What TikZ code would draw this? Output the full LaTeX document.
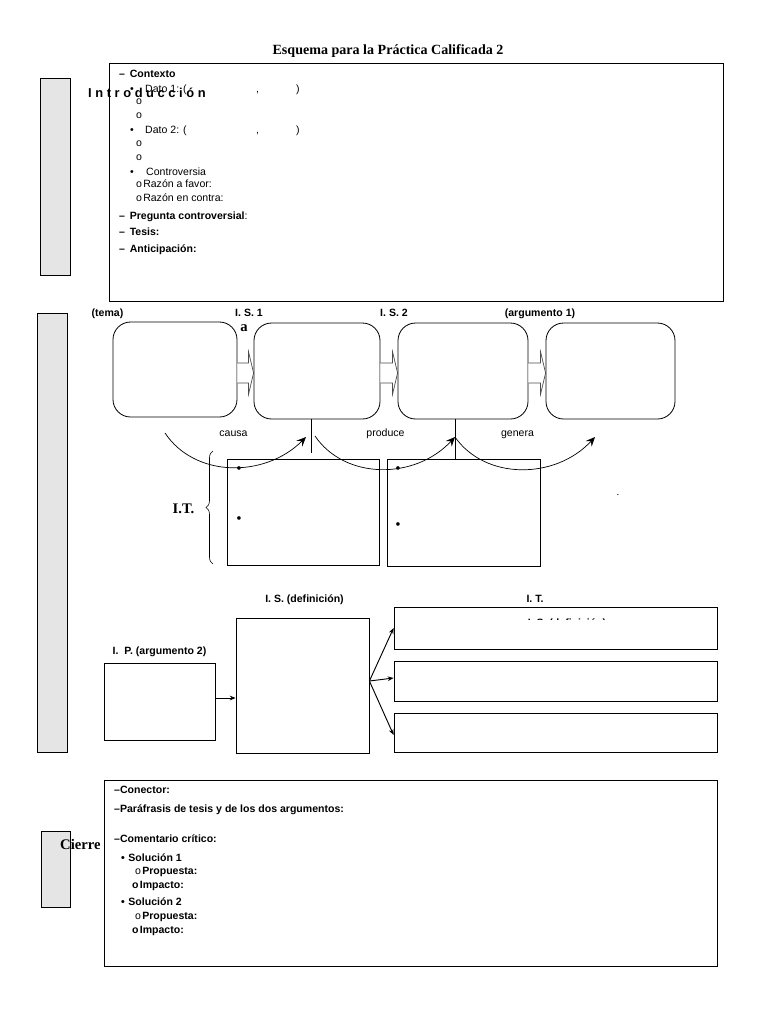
\documentclass[tikz,border=0pt]{standalone}
\usepackage{fontspec}
\setmainfont{Liberation Serif}
\setsansfont{Liberation Sans}
\usetikzlibrary{arrows.meta,calc,fit,decorations.pathreplacing}

\tikzset{
  bar/.style={draw, fill=black!10, line width=0.6pt, inner sep=0pt},
  frame/.style={draw, line width=0.7pt, inner sep=0pt},
  rbox/.style={frame, rounded corners=15pt},
  txt/.style={font=\sffamily\fontsize{9}{11}\selectfont, inner sep=0pt, anchor=base west, yshift=-3.2pt},
  btxt/.style={txt, font=\sffamily\bfseries\fontsize{9}{11}\selectfont},
  hdr/.style={font=\sffamily\bfseries\fontsize{9}{11}\selectfont, inner sep=0pt, anchor=base, yshift=-3.2pt},
  word/.style={font=\sffamily\fontsize{9}{11}\selectfont, inner sep=0pt, anchor=base, yshift=-3.2pt},
  sertxt/.style={font=\rmfamily\bfseries\fontsize{12.5}{14}\selectfont, inner sep=0pt, anchor=base, yshift=-4.2pt},
  dot/.style={font=\rmfamily\fontsize{13}{14}\selectfont, inner sep=0pt},
  blk/.style={draw=black!70, fill=white, line width=0.6pt},
  curv/.style={line width=0.6pt, -{Stealth[length=8pt,width=7pt,inset=3pt]}},
  fan/.style={line width=0.8pt, -{Stealth[length=5pt,width=4pt]}}
}

\begin{document}
\begin{tikzpicture}[x=0.03cm,y=-0.03cm]

\useasboundingbox (0,0) rectangle (768,1024);
\fill[white] (0,0) rectangle (768,1024);

% Title
\node[font=\rmfamily\bfseries\fontsize{12}{14}\selectfont, inner sep=0pt, anchor=base, yshift=-4pt] (title) at (388,50) {Esquema para la Práctica Calificada 2};

% Introduction
\node[bar, fit={(40,78)(70,275)}] (introbar) {};
\node[frame, fit={(109,63)(723,301)}] (introbox) {};
\node[txt, font=\sffamily\bfseries\fontsize{11}{13}\selectfont, yshift=-3.9pt] (introlbl) at (88,89) {I n t r o d u c c i ó n};

\node[btxt] (ctx) at (119,74) {–\hspace{4pt}Contexto};
\node[txt] (b1) at (130,89) {•};
\node[txt] (dato1) at (145,89) {Dato 1: (};
\node[txt] (dato1c) at (256,89) {,};
\node[txt] (dato1p) at (296,89) {)};
\node[txt] (o1) at (136,101) {o};
\node[txt] (o2) at (136,115) {o};
\node[txt] (b2) at (130,130) {•};
\node[txt] (dato2) at (145,130) {Dato 2: (};
\node[txt] (dato2c) at (256,130) {,};
\node[txt] (dato2p) at (296,130) {)};
\node[txt] (o3) at (136,143) {o};
\node[txt] (o4) at (136,157) {o};
\node[txt] (b3) at (130,172) {•};
\node[txt] (contro) at (146,172) {Controversia};
\node[txt] (favor) at (136,184) {o\hspace{1pt}Razón a favor:};
\node[txt] (contra) at (136,198) {o\hspace{1pt}Razón en contra:};
\node[btxt] (preg) at (119,216) {–\hspace{4pt}Pregunta controversial{\mdseries:}};
\node[btxt] (tesis) at (119,232) {–\hspace{4pt}Tesis:};
\node[btxt] (antic) at (119,249) {–\hspace{4pt}Anticipación:};

% Development
\node[bar, fit={(37,313)(67,752)}] (desbar) {};

\node[hdr] (htema) at (107.5,313) {(tema)};
\node[hdr] (his1) at (249,313) {I. S. 1};
\node[hdr] (his2) at (394,313) {I. S. 2};
\node[hdr] (harg1) at (540,313) {(argumento 1)};
\node[sertxt] (letra) at (244,327) {a};

\node[rbox, fit={(113,322)(237,417)}] (tema) {};
\node[rbox, fit={(254,323)(380,419)}] (is1) {};
\node[rbox, fit={(398,323)(528,419)}] (is2) {};
\node[rbox, fit={(546,323)(675,419)}] (arg1) {};

\foreach \a/\b in {tema/is1,is1/is2,is2/arg1}{
  \path (\a.east |- 0,373) coordinate (s) (\b.west |- 0,373) coordinate (t);
  \draw[blk] ($(s)+(0,-10)$) -- ($(t)+(-5,-10)$) -- ($(t)+(-5,-21)$) -- (t)
    -- ($(t)+(-5,21)$) -- ($(t)+(-5,10)$) -- ($(s)+(0,10)$);
}

\node[word] (causa) at (233.5,433) {causa};
\node[word] (produce) at (385.5,433) {produce};
\node[word] (genera) at (517.5,433) {genera};

% I.T. boxes
\node[frame, fit={(227,459)(379,565)}] (ita) {};
\node[frame, fit={(387,459)(540,566)}] (itb) {};
\node[dot] (ita1) at (239,470) {•};
\node[dot] (ita2) at (239,520) {•};
\node[dot] (itb1) at (398,470) {•};
\node[dot] (itb2) at (398,526) {•};
\node[dot, font=\rmfamily\fontsize{9}{11}\selectfont] (punto) at (618,495) {.};

\coordinate (l1) at (311,453);
\draw[line width=0.6pt] (is1.south -| l1) -- (l1);
\draw[line width=0.6pt] (is2.south -| 455,0) -- (itb.north -| 455,0);

\draw[line width=0.5pt, decorate, decoration={brace, amplitude=6pt}] (213,564) -- (213,451);
\node[sertxt] (itlbl) at (183.5,509) {I.T.};

% curved arrows
\coordinate (c1s) at (165,433); \coordinate (c1e) at (306,437);
\coordinate (c2s) at (315,436); \coordinate (c2e) at (455,437);
\coordinate (c3s) at (455,437); \coordinate (c3e) at (595,437);
\draw[curv] (c1s) .. controls (195,478) and (265,478) .. (c1e);
\draw[curv] (c2s) .. controls (345,480) and (415,480) .. (c2e);
\draw[curv] (c3s) .. controls (485,480) and (555,480) .. (c3e);

% Second argument
\node[hdr] (hisd) at (304.5,599) {I. S. (definición)};
\node[hdr] (hit) at (535,599) {I. T.};
\node[hdr] (hip) at (159.5,651) {I.\ \ P. (argumento 2)};

\node[frame, fit={(104,663)(215,740)}] (ip) {};
\node[frame, fit={(236,618)(369,753)}] (isd) {};
\node[frame, fit={(394,607)(717,649)}] (it1) {};
\node[frame, fit={(394,661)(717,701)}] (it2) {};
\node[frame, fit={(394,713)(717,752)}] (it3) {};

\begin{scope}
  \clip (520,612) rectangle (620,619.5);
  \node[hdr] (hidden) at (567,623) {I. S. (definición)};
\end{scope}

\draw[fan] (ip.east |- 0,698) -- (isd.west |- 0,698);
\coordinate (fork) at (isd.east |- 0,681);
\draw[fan] (fork) -- (it1.west);
\draw[fan] (fork) -- (it2.west |- 0,678);
\draw[fan] (fork) -- (it3.west |- 0,735);

% Closing
\node[bar, fit={(41,831)(70,907)}] (cierrebar) {};
\node[sertxt, anchor=base west] (cierre) at (60,845) {Cierre};
\node[frame, fit={(104,780)(717,966)}] (cierrebox) {};

\node[btxt] (conector) at (114,790) {–Conector:};
\node[btxt] (parafr) at (114,809) {–Paráfrasis de tesis y de los dos argumentos:};
\node[btxt] (coment) at (114,839) {–Comentario crítico:};
\node[btxt] (sol1) at (121,858) {•\hspace{3pt}Solución 1};
\node[btxt] (prop1) at (135,871) {{\mdseries o}\hspace{1pt}Propuesta:};
\node[btxt] (imp1) at (132,885) {o\hspace{1pt}Impacto:};
\node[btxt] (sol2) at (121,902) {•\hspace{3pt}Solución 2};
\node[btxt] (prop2) at (135,916) {{\mdseries o}\hspace{1pt}Propuesta:};
\node[btxt] (imp2) at (132,930) {o\hspace{1pt}Impacto:};

\end{tikzpicture}
\end{document}
